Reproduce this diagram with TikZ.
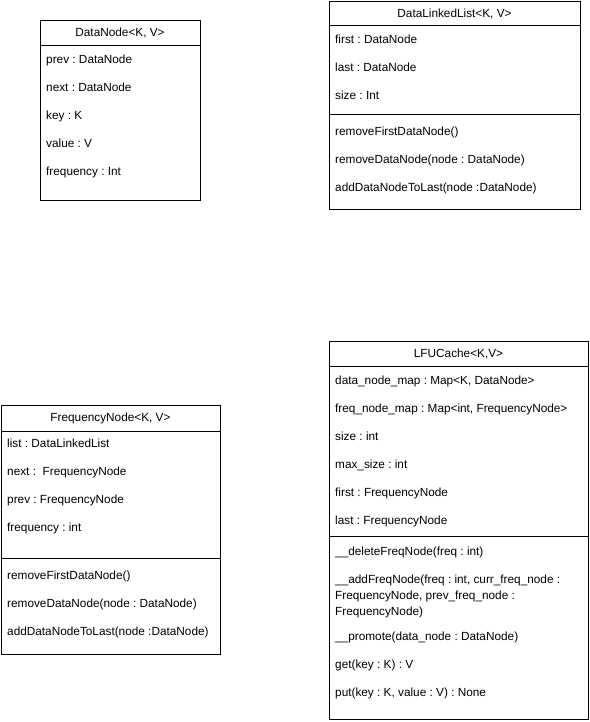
\documentclass[tikz,border=0pt]{standalone}
\usepackage{fontspec}
\setmainfont{Liberation Sans}
\frenchspacing
\begin{document}
\begin{tikzpicture}[x=1pt,y=-1pt,
  classbox/.style={draw, line width=1pt, inner sep=0pt, anchor=north west},
  ctitle/.style={inner sep=0pt, text height=8.6pt, text depth=2.5pt, anchor=center, font=\fontsize{11.8}{14}\selectfont},
  attr/.style={inner sep=0pt, text height=8.6pt, text depth=2.5pt, anchor=west, font=\fontsize{11.8}{14}\selectfont},
  multiattr/.style={inner sep=0pt, anchor=base west, align=left, font=\fontsize{11.8}{16}\selectfont},
  sepline/.style={line width=1pt}]
\useasboundingbox (0,0) rectangle (589,722);

% DataNode
\node[classbox, minimum width=160, minimum height=180] (dn) at (40,20) {};
\node[ctitle] (dnt) at (120,33) {DataNode<K, V>};
\draw[sepline] (40,46) -- (200,46);
\node[attr] (dn1) at (46,60) {prev : DataNode};
\node[attr] (dn2) at (46,88) {next : DataNode};
\node[attr] (dn3) at (46,116) {key : K};
\node[attr] (dn4) at (46,144) {value : V};
\node[attr] (dn5) at (46,172) {frequency : Int};

% DataLinkedList
\node[classbox, minimum width=251, minimum height=208] (dl) at (329,1) {};
\node[ctitle] (dlt) at (454.5,14) {DataLinkedList<K, V>};
\draw[sepline] (329,26) -- (580,26);
\node[attr] (dl1) at (335,40) {first : DataNode};
\node[attr] (dl2) at (335,68) {last : DataNode};
\node[attr] (dl3) at (335,96) {size : Int};
\draw[sepline] (329,115) -- (580,115);
\node[attr] (dl4) at (335,132) {removeFirstDataNode()};
\node[attr] (dl5) at (335,160) {removeDataNode(node : DataNode)};
\node[attr] (dl6) at (335,188) {addDataNodeToLast(node :DataNode)};

% FrequencyNode
\node[classbox, minimum width=219, minimum height=249] (fn) at (1,405) {};
\node[ctitle] (fnt) at (110.5,418) {FrequencyNode<K, V>};
\draw[sepline] (1,431) -- (220,431);
\node[attr] (fn1) at (7,444) {list : DataLinkedList};
\node[attr] (fn2) at (7,472) {next :\ \ FrequencyNode};
\node[attr] (fn3) at (7,500) {prev : FrequencyNode};
\node[attr] (fn4) at (7,528) {frequency : int};
\draw[sepline] (1,558) -- (220,558);
\node[attr] (fn5) at (7,576) {removeFirstDataNode()};
\node[attr] (fn6) at (7,604) {removeDataNode(node : DataNode)};
\node[attr] (fn7) at (7,632) {addDataNodeToLast(node :DataNode)};

% LFUCache
\node[classbox, minimum width=259, minimum height=378] (lfu) at (329,341) {};
\node[ctitle] (lfut) at (458.5,354) {LFUCache<K,V>};
\draw[sepline] (329,366) -- (588,366);
\node[attr] (lf1) at (335,381) {data\_node\_map : Map<K, DataNode>};
\node[attr] (lf2) at (335,409) {freq\_node\_map : Map<int, FrequencyNode>};
\node[attr] (lf3) at (335,437) {size : int};
\node[attr] (lf4) at (335,465) {max\_size : int};
\node[attr] (lf5) at (335,493) {first : FrequencyNode};
\node[attr] (lf6) at (335,521) {last : FrequencyNode};
\draw[sepline] (329,536) -- (588,536);
\node[attr] (lf7) at (335,552) {\_\_deleteFreqNode(freq : int)};
\node[multiattr] (lf8) at (335,615.1) {\_\_addFreqNode(freq : int, curr\_freq\_node :\\FrequencyNode, prev\_freq\_node :\\FrequencyNode)};
\node[attr] (lf9) at (335,637) {\_\_promote(data\_node : DataNode)};
\node[attr] (lf10) at (335,665) {get(key : K) : V};
\node[attr] (lf11) at (335,693) {put(key : K, value : V) : None};
\end{tikzpicture}
\end{document}
